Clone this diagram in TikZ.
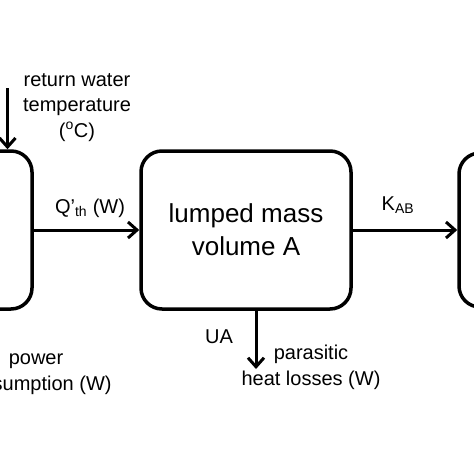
\documentclass[tikz,border=0pt]{standalone}
\usepackage{fontspec}
\setmainfont{Liberation Sans}
\usetikzlibrary{arrows.meta}
\begin{document}
\begin{tikzpicture}[x=1pt,y=-1pt,
  blk/.style={draw, line width=3.5pt, rounded corners=21pt, minimum width=210pt,
    minimum height=158pt, inner sep=0pt, align=center,
    font=\fontsize{26}{33}\selectfont},
  flow/.style={line width=3pt, -{Straight Barb[length=9pt,width=16pt]}},
  lbl/.style={inner sep=0pt, align=center, anchor=base,
    font=\fontsize{20}{25.5}\selectfont}]
\fill[white] (0,0) rectangle (474,474);
\useasboundingbox (0,0) rectangle (474,474);
% blocks
\node[blk] (L) at (-73,230) {};
\node[blk] (A) at (246,230) {lumped mass\\volume A};
\node[blk, minimum height=154pt] (B) at (564,230) {};
% connectors
\coordinate (rw) at (7.5,88);
\coordinate (ua) at (256,369);
\draw[flow] (L.east) -- (A.west);
\draw[flow] (A.east) -- (B.west);
\draw[flow] (rw) -- (rw |- L.north);
\draw[flow] (ua |- A.south) -- (ua);
% labels (anchor base = baseline of the last line)
\node[lbl] (rwt) at (77,137) {return water\\temperature\\(\textsuperscript{o}C)};
\node[lbl] (qth) at (90,213) {Q’\textsubscript{th} (W)};
\node[lbl] (kab) at (398,210) {K\textsubscript{AB}};
\node[lbl] (uat) at (219,343) {UA};
\node[lbl] (par) at (311,385) {parasitic\\heat losses (W)};
\node[lbl] (pow) at (36,390) {power\\consumption (W)};
\end{tikzpicture}
\end{document}
